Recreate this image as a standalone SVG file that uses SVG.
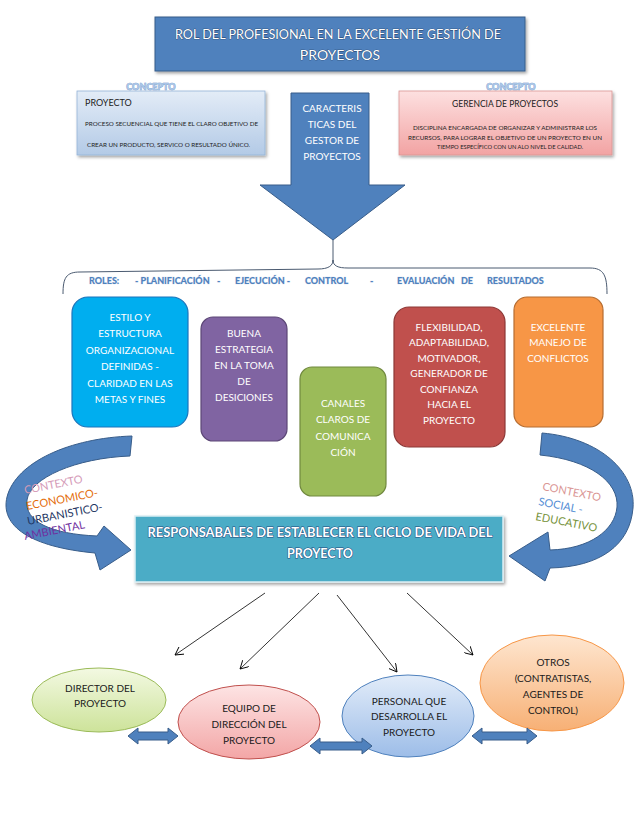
<svg xmlns="http://www.w3.org/2000/svg" width="638" height="826" viewBox="0 0 638 826">
<defs>
  <style>
    text{font-family:Lato,"Open Sans","Liberation Sans",sans-serif}
    .w{fill:#fff;font-size:10px;text-anchor:middle}
    .d{fill:#1a1a1a;font-size:10px;text-anchor:middle}
    .ttl{fill:#fff;stroke:#1f3a60;stroke-width:0.7px;paint-order:stroke;font-size:14px;text-anchor:middle}
    .cp{fill:#a9c4e6;stroke:#4f81bd;stroke-width:0.5px;paint-order:stroke;font-size:9px;font-weight:900;text-anchor:middle}
    .rl{fill:#4f81bd;stroke:#dbe5f1;stroke-width:0.6px;paint-order:stroke;font-size:9px;font-weight:900}
    .sm{fill:#222;font-size:6px}
    .blue{fill:#4f81bd;stroke:#385d8a;stroke-width:1}
    .ctx{font-size:11px}
  </style>
  <filter id="sh" x="-10%" y="-10%" width="130%" height="140%">
    <feDropShadow dx="1.5" dy="2" stdDeviation="1.5" flood-color="#000" flood-opacity="0.35"/>
  </filter>
  <linearGradient id="gBlue" x1="0" y1="0" x2="0" y2="1"><stop offset="0" stop-color="#e3ecf7"/><stop offset="1" stop-color="#b3cae6"/></linearGradient>
  <linearGradient id="gPink" x1="0" y1="0" x2="0" y2="1"><stop offset="0" stop-color="#fde0e0"/><stop offset="1" stop-color="#f2a3a3"/></linearGradient>
  <linearGradient id="eGreen" x1="0" y1="0" x2="0" y2="1"><stop offset="0" stop-color="#f3f9e2"/><stop offset="1" stop-color="#cde39a"/></linearGradient>
  <linearGradient id="ePink" x1="0" y1="0" x2="0" y2="1"><stop offset="0" stop-color="#fde4e4"/><stop offset="1" stop-color="#f3a6a6"/></linearGradient>
  <linearGradient id="eBlue" x1="0" y1="0" x2="0" y2="1"><stop offset="0" stop-color="#e2ecf9"/><stop offset="1" stop-color="#9dbde8"/></linearGradient>
  <linearGradient id="eOrange" x1="0" y1="0" x2="0" y2="1"><stop offset="0" stop-color="#fee6d0"/><stop offset="1" stop-color="#f7b075"/></linearGradient>
  <marker id="ah" viewBox="0 0 10 10" refX="9" refY="5" markerWidth="9" markerHeight="9" orient="auto" markerUnits="userSpaceOnUse">
    <path d="M0,0 L9,5 L0,10" fill="none" stroke="#000" stroke-width="1"/>
  </marker>
</defs>
<rect width="638" height="826" fill="#fff"/>

<g id="title">
  <rect x="155" y="17" width="370" height="54" fill="#4f81bd" stroke="#385d8a" stroke-width="1" filter="url(#sh)"/>
  <text class="ttl" x="338" y="39" textLength="326" lengthAdjust="spacingAndGlyphs">ROL DEL PROFESIONAL EN LA EXCELENTE GESTIÓN DE</text>
  <text class="ttl" x="340" y="60">PROYECTOS</text>
</g>

<g id="concepto-proyecto">
  <text class="cp" x="151" y="90">CONCEPTO</text>
  <rect x="77" y="91" width="188" height="64" fill="url(#gBlue)" stroke="#95b3d7" stroke-width="0.8" filter="url(#sh)"/>
  <text x="85" y="106" fill="#222" font-size="9">PROYECTO</text>
  <text class="sm" x="85" y="126" textLength="173" lengthAdjust="spacingAndGlyphs">PROCESO SECUENCIAL  QUE TIENE EL CLARO OBJETIVO DE</text>
  <text class="sm" x="87" y="147" textLength="163" lengthAdjust="spacingAndGlyphs">CREAR UN PRODUCTO, SERVICO   O RESULTADO   ÚNICO.</text>
</g>

<g id="concepto-gerencia">
  <text class="cp" x="511" y="90">CONCEPTO</text>
  <rect x="399" y="91" width="213" height="64" fill="url(#gPink)" stroke="#d99694" stroke-width="0.8" filter="url(#sh)"/>
  <text x="505" y="107" fill="#222" font-size="9" text-anchor="middle" textLength="106" lengthAdjust="spacingAndGlyphs">GERENCIA  DE PROYECTOS</text>
  <text class="sm" x="505" y="130" text-anchor="middle" textLength="184" lengthAdjust="spacingAndGlyphs">DISCIPLINA ENCARGADA DE ORGANIZAR Y ADMINISTRAR LOS</text>
  <text class="sm" x="505" y="140" text-anchor="middle" textLength="194" lengthAdjust="spacingAndGlyphs">RECURSOS,  PARA LOGRAR EL OBJETIVO  DE UN PROYECTO EN UN</text>
  <text class="sm" x="510" y="149" text-anchor="middle" textLength="146" lengthAdjust="spacingAndGlyphs">TIEMPO ESPECÍFICO CON UN ALO NIVEL DE CALIDAD.</text>
</g>

<g id="caracteristicas">
  <polygon class="blue" points="291,93 369,93 369,185 405,185 333,240 260,185 291,185"/>
  <text class="w" x="332" y="112" font-size="9.5">CARACTERIS</text>
  <text class="w" x="332" y="128" font-size="9.5">TICAS DEL</text>
  <text class="w" x="332" y="144" font-size="9.5">GESTOR DE</text>
  <text class="w" x="332" y="160" font-size="9.5">PROYECTOS</text>
</g>

<g id="roles">
  <text class="rl" y="284"><tspan x="89">ROLES:</tspan><tspan x="135">- PLANIFICACIÓN</tspan><tspan x="217">-</tspan><tspan x="235">EJECUCIÓN -</tspan><tspan x="305">CONTROL</tspan><tspan x="370">-</tspan><tspan x="397">EVALUACIÓN</tspan><tspan x="461">DE</tspan><tspan x="487">RESULTADOS</tspan></text>
</g>

<g id="box-estilo">
  <rect x="72" y="297" width="116" height="130" rx="16" fill="#00aeef" stroke="#1b75bb" stroke-width="1.2"/>
  <text class="w" x="130" y="321">ESTILO Y</text>
  <text class="w" x="130" y="337">ESTRUCTURA</text>
  <text class="w" x="130" y="354">ORGANIZACIONAL</text>
  <text class="w" x="130" y="370">DEFINIDAS -</text>
  <text class="w" x="130" y="387">CLARIDAD  EN LAS</text>
  <text class="w" x="130" y="403">METAS Y  FINES</text>
</g>

<g id="box-estrategia">
  <rect x="201" y="317" width="86" height="124" rx="12" fill="#8064a2" stroke="#5c4776" stroke-width="1.2"/>
  <text class="w" x="244" y="337">BUENA</text>
  <text class="w" x="244" y="353">ESTRATEGIA</text>
  <text class="w" x="244" y="369">EN LA TOMA</text>
  <text class="w" x="244" y="385">DE</text>
  <text class="w" x="244" y="401">DESICIONES</text>
</g>

<g id="box-canales">
  <rect x="300" y="367" width="86" height="129" rx="12" fill="#9bbb59" stroke="#71893f" stroke-width="1.2"/>
  <text class="w" x="343" y="407">CANALES</text>
  <text class="w" x="343" y="423">CLAROS DE</text>
  <text class="w" x="343" y="440">COMUNICA</text>
  <text class="w" x="343" y="456">CIÓN</text>
</g>

<g id="box-flexibilidad">
  <rect x="394" y="307" width="111" height="140" rx="15" fill="#c0504d" stroke="#8c3836" stroke-width="1.2"/>
  <text class="w" x="449" y="331">FLEXIBILIDAD,</text>
  <text class="w" x="449" y="346">ADAPTABILIDAD,</text>
  <text class="w" x="449" y="362">MOTIVADOR,</text>
  <text class="w" x="449" y="377">GENERADOR DE</text>
  <text class="w" x="449" y="393">CONFIANZA</text>
  <text class="w" x="449" y="408">HACIA EL</text>
  <text class="w" x="449" y="424">PROYECTO</text>
</g>

<g id="box-conflictos">
  <rect x="514" y="297" width="89" height="130" rx="13" fill="#f79646" stroke="#b66d31" stroke-width="1.2"/>
  <text class="w" x="558" y="331">EXCELENTE</text>
  <text class="w" x="558" y="346">MANEJO DE</text>
  <text class="w" x="558" y="362">CONFLICTOS</text>
</g>

<g id="contexto-izq">
  <path class="blue" d="M132,436 C70,438 16,462 7,497 C0,526 30,547 95,553 L100,570 L131,550 L104,526 L97,536 C52,534 24,522 27,500 C30,478 76,458 130,456 Z"/>
  <text class="ctx" fill="#d59bb8" transform="translate(25,494) rotate(-11)">CONTEXTO</text>
  <text class="ctx" fill="#e46c0a" transform="translate(27,510) rotate(-11)">ECONOMICO-</text>
  <text class="ctx" fill="#1f3864" transform="translate(28,525) rotate(-11)">URBANISTICO-</text>
  <text class="ctx" fill="#7030a0" transform="translate(25,540) rotate(-11)">AMBIENTAL</text>
</g>

<g id="contexto-der">
  <path class="blue" d="M542,433 C600,438 636,472 633,508 C630,545 600,567 550,568 L545,581 L509,556 L548,532 L550,550 C590,549 615,530 617,507 C619,482 590,460 540,455 Z"/>
  <text class="ctx" fill="#da9694" transform="translate(542,490) rotate(11)">CONTEXTO</text>
  <text class="ctx" fill="#558ed5" transform="translate(538,505) rotate(11)">SOCIAL -</text>
  <text class="ctx" fill="#77933c" transform="translate(535,520) rotate(11)">EDUCATIVO</text>
</g>

<g id="responsables">
  <rect x="135" y="516" width="368" height="66" fill="#4bacc6" stroke="#dbeef3" stroke-width="1.5" filter="url(#sh)"/>
  <text x="320" y="537" fill="#fff" stroke="#1f497d" stroke-width="1" paint-order="stroke" font-size="12.5" font-weight="bold" text-anchor="middle" textLength="345" lengthAdjust="spacingAndGlyphs">RESPONSABALES DE ESTABLECER  EL CICLO DE VIDA DEL</text>
  <text x="320" y="558" fill="#fff" stroke="#1f497d" stroke-width="1" paint-order="stroke" font-size="12.5" font-weight="bold" text-anchor="middle">PROYECTO</text>
</g>

<g id="director">
  <ellipse cx="99" cy="700" rx="67" ry="32" fill="url(#eGreen)" stroke="#9bbb59" stroke-width="1"/>
  <text class="d" x="100" y="692">DIRECTOR DEL</text>
  <text class="d" x="100" y="707">PROYECTO</text>
</g>

<g id="equipo">
  <ellipse cx="249" cy="722" rx="71" ry="37" fill="url(#ePink)" stroke="#c0504d" stroke-width="1"/>
  <text class="d" x="249" y="712">EQUIPO DE</text>
  <text class="d" x="249" y="728">DIRECCIÓN DEL</text>
  <text class="d" x="249" y="744">PROYECTO</text>
</g>

<g id="personal">
  <ellipse cx="408" cy="716" rx="66" ry="41" fill="url(#eBlue)" stroke="#4f81bd" stroke-width="1"/>
  <text class="d" x="409" y="705">PERSONAL QUE</text>
  <text class="d" x="409" y="720">DESARROLLA EL</text>
  <text class="d" x="409" y="736">PROYECTO</text>
</g>

<g id="otros">
  <ellipse cx="552" cy="683" rx="72" ry="48" fill="url(#eOrange)" stroke="#f79646" stroke-width="1"/>
  <text class="d" x="553" y="666">OTROS</text>
  <text class="d" x="553" y="682">(CONTRATISTAS,</text>
  <text class="d" x="553" y="698">AGENTES DE</text>
  <text class="d" x="553" y="714">CONTROL)</text>
</g>

<g id="connectors">
  <path d="M333,240 L333,262" stroke="#4a5a70" stroke-width="1" fill="none"/>
  <path d="M63,294 C63,278 66,272 80,272 L318,269 C328,269 333,266 333,260 C333,266 338,268 348,268 L590,268 C604,268 607,276 607,294" stroke="#4a5a70" stroke-width="1" fill="none"/>
  <g stroke="#000" stroke-width="0.8" fill="none" marker-end="url(#ah)">
    <line x1="265" y1="593" x2="175" y2="655"/>
    <line x1="319" y1="593" x2="240" y2="669"/>
    <line x1="337" y1="595" x2="397" y2="672"/>
    <line x1="407" y1="593" x2="473" y2="655"/>
  </g>
  <polygon class="blue" points="128,736 138,728 138,732 168,732 168,728 178,736 168,744 168,740 138,740 138,744"/>
  <polygon class="blue" points="310,746 320,738 320,742 362,742 362,738 372,746 362,754 362,750 320,750 320,754"/>
  <polygon class="blue" points="472,736 482,728 482,732 527,732 527,728 537,736 527,744 527,740 482,740 482,744"/>
</g>
</svg>
